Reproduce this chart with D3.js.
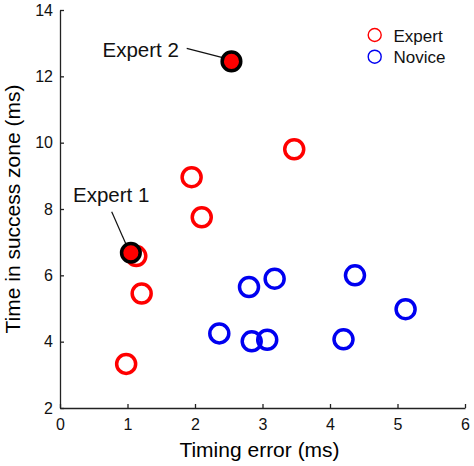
<!DOCTYPE html>
<html>
<head>
<meta charset="utf-8">
<script src="https://cdn.jsdelivr.net/npm/d3@7"></script>
<style>
  body { margin: 0; background: #fff; }
  svg { font-family: Arial, "Liberation Sans", sans-serif; }
  .axis path, .axis line { stroke: #222; stroke-width: 1.3; }
  .axis text { font-size: 16px; fill: #111; }
</style>
</head>
<body>
<svg id="chart"></svg>
<script>
// experts (open red)
const expertX = [0.98, 1.21, 1.13, 2.10, 1.95, 3.47];
const expertY = [3.33, 5.45, 6.58, 7.75, 8.96, 9.80];
// novices (open blue)
const noviceX = [2.36, 2.80, 3.18, 4.37, 5.12, 2.84, 3.07, 4.20];
const noviceY = [4.25, 5.65, 5.90, 6.00, 4.98, 4.01, 4.06, 4.07];
// highlighted experts
const namedLabels = ['Expert 1', 'Expert 2'];
const namedX = [1.05, 2.54];
const namedY = [6.68, 12.45];

const xTicks = [0, 1, 2, 3, 4, 5, 6];
const yTicks = [2, 4, 6, 8, 10, 12, 14];
const legendLabels = ['Expert', 'Novice'];

class ScatterChart {

    constructor(_config) {
        this.config = {
            parentElement: _config.parentElement,
            containerWidth: _config.containerWidth || 474,
            containerHeight: _config.containerHeight || 466,
            margin: _config.margin || {top: 10, right: 9, bottom: 58, left: 60}
        }
        this.initVis();
    }

    initVis() {
        let vis = this;
        vis.width = vis.config.containerWidth - vis.config.margin.left - vis.config.margin.right;
        vis.height = vis.config.containerHeight - vis.config.margin.top - vis.config.margin.bottom;

        vis.xScale = d3.scaleLinear().domain([0, 6]).range([0, vis.width]);
        vis.yScale = d3.scaleLinear().domain([2, 14]).range([vis.height, 0]);

        vis.xAxis = d3.axisBottom(vis.xScale)
            .tickValues(xTicks)
            .tickFormat(d3.format('d'))
            .tickSizeInner(-4)
            .tickSizeOuter(0)
            .tickPadding(11);

        vis.yAxis = d3.axisLeft(vis.yScale)
            .tickValues(yTicks)
            .tickFormat(d3.format('d'))
            .tickSizeInner(-4)
            .tickSizeOuter(0)
            .tickPadding(7);

        vis.svg = d3.select(vis.config.parentElement)
            .attr('width', vis.config.containerWidth)
            .attr('height', vis.config.containerHeight);

        vis.chart = vis.svg.append('g')
            .attr('transform', `translate(${vis.config.margin.left},${vis.config.margin.top})`);

        vis.chart.append('g')
            .attr('class', 'axis x-axis')
            .attr('transform', `translate(0,${vis.height})`)
            .call(vis.xAxis);

        vis.chart.append('g')
            .attr('class', 'axis y-axis')
            .call(vis.yAxis);

        // axis titles
        vis.chart.append('text')
            .attr('x', vis.width / 2 - 3)
            .attr('y', vis.height + 49)
            .attr('text-anchor', 'middle')
            .style('font-size', '21px')
            .text('Timing error (ms)');

        vis.chart.append('text')
            .attr('transform', `translate(-40,${vis.height / 2}) rotate(-90)`)
            .attr('text-anchor', 'middle')
            .style('font-size', '21px')
            .text('Time in success zone (ms)');

        vis.renderVis();
    }

    renderVis() {
        let vis = this;
        const experts = expertX.map((x, i) => ({x: x, y: expertY[i]}));
        const novices = noviceX.map((x, i) => ({x: x, y: noviceY[i]}));
        const named = namedX.map((x, i) => ({x: x, y: namedY[i], label: namedLabels[i]}));

        // annotation text + pointer lines (under the markers)
        const labelPos = [
            {tx: 73, ty: 201.7, lx1: 111.7, ly1: 211.7},
            {tx: 102.5, ty: 56.5, lx1: 186.7, ly1: 48.3}
        ];
        named.forEach((d, i) => {
            const p = labelPos[i];
            const cx = vis.xScale(d.x) + vis.config.margin.left;
            const cy = vis.yScale(d.y) + vis.config.margin.top;
            vis.svg.append('line')
                .attr('x1', p.lx1).attr('y1', p.ly1)
                .attr('x2', cx - 2).attr('y2', cy - 2)
                .attr('stroke', '#111')
                .attr('stroke-width', 1.2);
            vis.svg.append('text')
                .attr('x', p.tx)
                .attr('y', p.ty)
                .style('font-size', '20.5px')
                .attr('fill', '#111')
                .text(d.label);
        });

        vis.marks = vis.svg.append('g')
            .attr('transform', `translate(${vis.config.margin.left},${vis.config.margin.top})`);

        vis.marks.selectAll('.expert')
            .data(experts)
            .enter()
          .append('circle')
            .attr('class', 'expert')
            .attr('cx', d => vis.xScale(d.x))
            .attr('cy', d => vis.yScale(d.y))
            .attr('r', 9.5)
            .attr('fill', 'none')
            .attr('stroke', '#f00')
            .attr('stroke-width', 3.5);

        vis.marks.selectAll('.novice')
            .data(novices)
            .enter()
          .append('circle')
            .attr('class', 'novice')
            .attr('cx', d => vis.xScale(d.x))
            .attr('cy', d => vis.yScale(d.y))
            .attr('r', 9.5)
            .attr('fill', 'none')
            .attr('stroke', '#0000f0')
            .attr('stroke-width', 3.5);

        vis.marks.selectAll('.named')
            .data(named)
            .enter()
          .append('circle')
            .attr('class', 'named')
            .attr('cx', d => vis.xScale(d.x))
            .attr('cy', d => vis.yScale(d.y))
            .attr('r', 9.3)
            .attr('fill', '#f00')
            .attr('stroke', '#000')
            .attr('stroke-width', 3.5);

        // legend
        const legendColors = ['#f00', '#0000f0'];
        const legend = vis.svg.append('g').attr('class', 'legend');
        legendLabels.forEach((lab, i) => {
            const y = 35 + i * 21.7;
            legend.append('circle')
                .attr('cx', 374.7)
                .attr('cy', y)
                .attr('r', 6.5)
                .attr('fill', 'none')
                .attr('stroke', legendColors[i])
                .attr('stroke-width', 1.4);
            legend.append('text')
                .attr('x', 393.5)
                .attr('y', y + 6.5)
                .style('font-size', '17px')
                .attr('fill', '#111')
                .text(lab);
        });
    }
}

new ScatterChart({parentElement: '#chart'});
</script>
</body>
</html>
